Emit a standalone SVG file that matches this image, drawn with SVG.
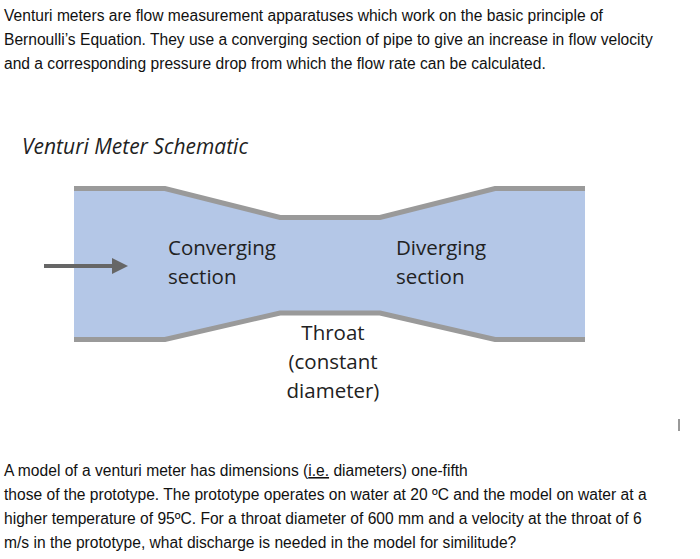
<svg xmlns="http://www.w3.org/2000/svg" width="700" height="559" viewBox="0 0 700 559">
<style>
.p{font-family:"Liberation Sans",Arial,sans-serif;font-size:15.6px;fill:#111}
.l{font-family:"Open Sans","Noto Sans",sans-serif;font-size:20.5px;fill:#222}
.w{fill:none;stroke:#9a9a9a;stroke-width:5}
</style>
<defs><marker id="ah" markerWidth="4" markerHeight="4" refX="3" refY="2" orient="auto" markerUnits="strokeWidth"><path d="M0,0L4,2L0,4z" fill="#666"/></marker></defs>
<rect width="700" height="559" fill="#fff"/>
<g class="p">
<text x="4" y="21">Venturi meters are flow measurement apparatuses which work on the basic principle of</text>
<text x="4" y="45">Bernoulli’s Equation. They use a converging section of pipe to give an increase in flow velocity</text>
<text x="4" y="69">and a corresponding pressure drop from which the flow rate can be calculated.</text>
</g>
<text x="22" y="154" font-family="'Open Sans',sans-serif" font-style="italic" font-size="21" fill="#222">Venturi Meter Schematic</text>
<g id="pipe">
<path d="M74,189H165L280,218H380L495,189H585V339H495L380,312H280L165,339H74Z" fill="#b4c7e7"/>
<path class="w" d="M74,188.5H165L280,217.5H380L495,188.5H585"/>
<path class="w" d="M74,339.5H165L280,313H380L495,339.5H585"/>
</g>
<g id="connectors"><line x1="44" y1="266" x2="124" y2="266" stroke="#666" stroke-width="4" marker-end="url(#ah)"/></g>
<g id="conv" class="l"><text x="168" y="255">Converging</text><text x="168" y="284">section</text></g>
<g id="div" class="l"><text x="396" y="255">Diverging</text><text x="396" y="284">section</text></g>
<g id="throat" class="l" text-anchor="middle"><text x="333" y="340">Throat</text><text x="333" y="369">(constant</text><text x="333" y="398">diameter)</text></g>
<line x1="679" y1="419" x2="679" y2="431" stroke="#333" stroke-width="1"/>
<g class="p">
<text x="4" y="476">A model of a venturi meter has dimensions (<tspan text-decoration="underline">i.e.</tspan> diameters) one-fifth</text>
<text x="4" y="500">those of the prototype. The prototype operates on water at 20 ºC and the model on water at a</text>
<text x="4" y="524">higher temperature of 95ºC.  For a throat diameter of 600 mm and a velocity at the throat of 6</text>
<text x="4" y="548">m/s in the prototype, what discharge is needed in the model for similitude?</text>
</g>
</svg>
